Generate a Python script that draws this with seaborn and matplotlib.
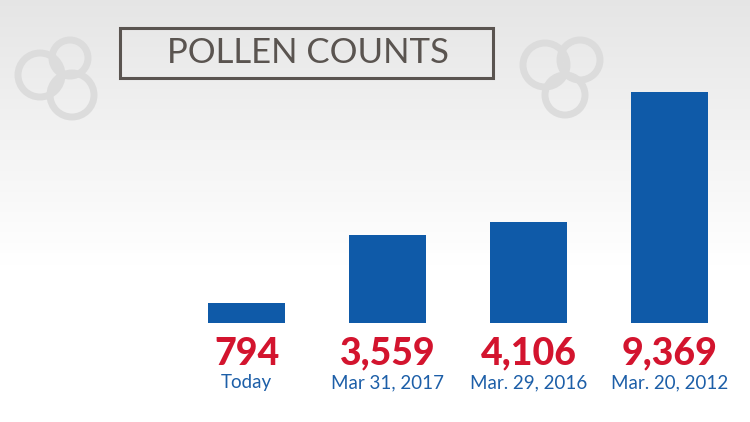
import matplotlib
matplotlib.use("Agg")
import matplotlib.pyplot as plt
import seaborn as sns
import numpy as np
import pandas as pd
from matplotlib.patches import Circle, Rectangle

dates = ["Today", "Mar 31, 2017", "Mar. 29, 2016", "Mar. 20, 2012"]
counts = [794, 3559, 4106, 9369]
value_labels = ["794", "3,559", "4,106", "9,369"]

sns.set_theme(style="white")
plt.rcParams['font.family'] = ['Lato', 'DejaVu Sans']

W, H = 750, 422
fig = plt.figure(figsize=(7.5, 4.22), dpi=100)

# background
bg = fig.add_axes([0, 0, 1, 1])
bg.set_xlim(0, W); bg.set_ylim(H, 0); bg.axis("off")
grad = np.linspace(0, 1, 200)[:, None]
g = 0.90 + 0.10 * np.clip(grad * 1.6, 0, 1)
bg.imshow(np.dstack([g, g, g]), extent=[0, W, H, 0], aspect="auto")
for (cx, cy, r) in [(40, 75, 22), (70, 58, 18), (72, 95, 22), (545, 65, 22), (580, 60, 20), (565, 95, 20)]:
    bg.add_patch(Circle((cx, cy), r, fill=False, lw=5, ec="#dcdcdc"))
bg.add_patch(Rectangle((120, 28), 373, 50, fill=False, lw=2.2, ec="#5a5450"))
bg.text(308, 53, "POLLEN COUNTS", ha="center", va="center", fontsize=25, color="#5a5450")

df = pd.DataFrame({"date": dates, "count": counts})
ax = fig.add_axes([176 / W, 99 / H, 564 / W, 246.6 / H])
sns.barplot(data=df, x="date", y="count", color="#0f5aa8", saturation=1, width=0.55,
            linewidth=0, ax=ax)
ax.set_xlim(-0.5, 3.5); ax.set_ylim(0, 10000)
ax.axis("off")
for i, (v, d) in enumerate(zip(value_labels, dates)):
    ax.annotate(v, xy=(i, 0), xytext=(0, -22), textcoords="offset points", ha="center", va="center",
                fontsize=27, fontweight="black", color="#d3142e")
    ax.annotate(d, xy=(i, 0), xytext=(0, -43), textcoords="offset points", ha="center", va="center",
                fontsize=13.5, color="#1d5fa8")

fig.savefig("out.png", dpi=100)
